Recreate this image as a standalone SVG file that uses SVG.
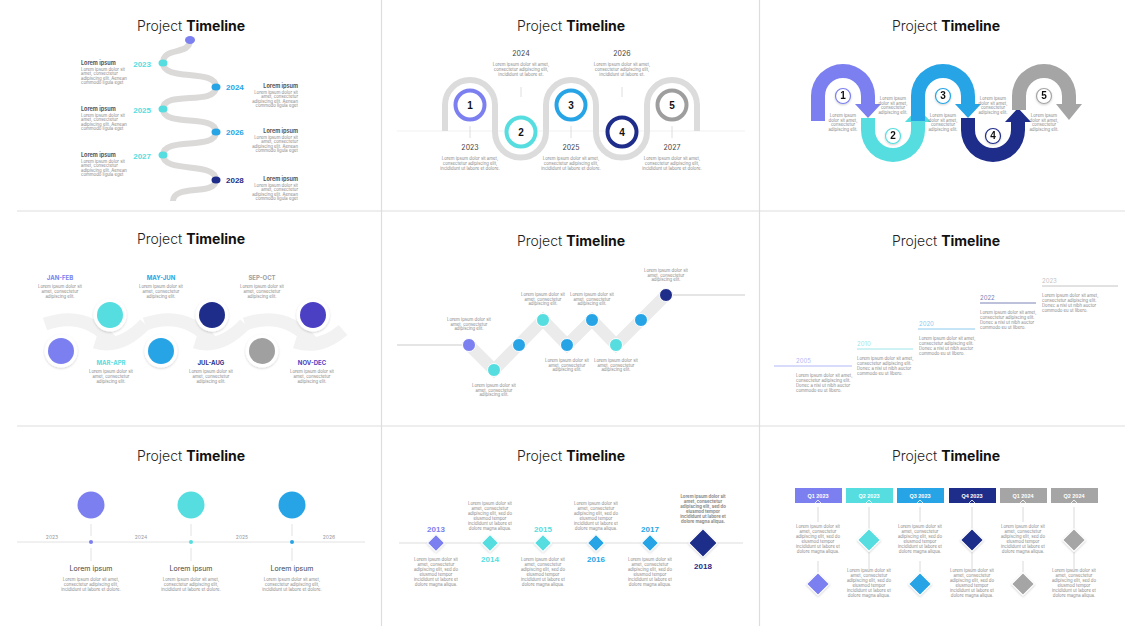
<svg xmlns="http://www.w3.org/2000/svg" width="1140" height="640" viewBox="0 0 1140 640">
<style>
.ttl{font-family:Inter,"Liberation Sans",sans-serif;font-size:14px;text-anchor:middle;fill:#222;font-weight:300}
.ttl tspan.b{font-weight:700;fill:#111}
.sm{font-family:Inter,"Liberation Sans",sans-serif;font-size:4.3px;fill:#888}
.c{text-anchor:middle}
.e{text-anchor:end}
.hd{font-family:Inter,"Liberation Sans",sans-serif;font-size:5.5px;font-weight:700;fill:#555}
.yr{font-family:"Liberation Sans",sans-serif;font-size:8px;font-weight:700}
.lab{font-family:Inter,"Liberation Sans",sans-serif;font-size:6px;font-weight:700}
.num{font-family:"Liberation Sans",sans-serif;font-size:10px;font-weight:700;fill:#111;text-anchor:middle}
.div{stroke:#DDDDDD;stroke-width:1.2}
</style>
<defs>
<filter id="sh" x="-50%" y="-50%" width="200%" height="200%"><feDropShadow dx="0" dy="1" stdDeviation="1.2" flood-color="#000" flood-opacity="0.18"/></filter>
</defs>
<rect width="1140" height="640" fill="#fff"/>
<g id="dividers">
<line class="div" x1="17" y1="211" x2="1125" y2="211"/>
<line class="div" x1="17" y1="426" x2="1125" y2="426"/>
<line class="div" x1="381.5" y1="0" x2="381.5" y2="626"/>
<line class="div" x1="759.5" y1="0" x2="759.5" y2="626"/>
</g>

<!-- Panel 1 -->
<g id="p1">
<text class="ttl" x="191" y="31">Project <tspan class="b">Timeline</tspan></text>
<g id="p1-connectors"><path d="M190,40 C190,56 163,46 163,63 C163,82 216,68 216,87 C216,106 163,90 163,109 C163,128 216,113 216,132 C216,151 163,136 163,155 C163,174 216,161 216,180 C216,196 173,184 173,201" fill="none" stroke="#DCD9D9" stroke-width="6"/></g>
<ellipse cx="190" cy="40" rx="5" ry="4" fill="#7B7FEF"/>
<ellipse cx="163" cy="63" rx="4.5" ry="3.5" fill="#55DDE0"/>
<ellipse cx="216" cy="87" rx="4.5" ry="3.5" fill="#27A4E6"/>
<ellipse cx="163" cy="109" rx="4.5" ry="3.5" fill="#55DDE0"/>
<ellipse cx="216" cy="132" rx="4.5" ry="3.5" fill="#27A4E6"/>
<ellipse cx="163" cy="155" rx="4.5" ry="3.5" fill="#55DDE0"/>
<ellipse cx="216" cy="180" rx="4.5" ry="3.5" fill="#1F2D8A"/>
<text class="yr e" x="151" y="67" fill="#55DDE0">2023</text>
<text class="yr" x="226" y="90" fill="#27A4E6">2024</text>
<text class="yr e" x="151" y="113" fill="#55DDE0">2025</text>
<text class="yr" x="226" y="135" fill="#27A4E6">2026</text>
<text class="yr e" x="151" y="159" fill="#55DDE0">2027</text>
<text class="yr" x="226" y="183" fill="#1F2D8A">2028</text>
<g id="p1-l1"><text class="hd" x="81" y="65">Lorem ipsum</text><text class="sm" x="81" y="71">Lorem ipsum dolor sit<tspan x="81" dy="4.4">amet, consectetur</tspan><tspan x="81" dy="4.4">adipiscing elit. Aenean</tspan><tspan x="81" dy="4.4">commodo ligula eget</tspan></text></g>
<g id="p1-l2"><text class="hd" x="81" y="111">Lorem ipsum</text><text class="sm" x="81" y="117">Lorem ipsum dolor sit<tspan x="81" dy="4.4">amet, consectetur</tspan><tspan x="81" dy="4.4">adipiscing elit. Aenean</tspan><tspan x="81" dy="4.4">commodo ligula eget</tspan></text></g>
<g id="p1-l3"><text class="hd" x="81" y="157">Lorem ipsum</text><text class="sm" x="81" y="163">Lorem ipsum dolor sit<tspan x="81" dy="4.4">amet, consectetur</tspan><tspan x="81" dy="4.4">adipiscing elit. Aenean</tspan><tspan x="81" dy="4.4">commodo ligula eget</tspan></text></g>
<g id="p1-r1"><text class="hd e" x="298" y="88">Lorem ipsum</text><text class="sm e" x="298" y="94">Lorem ipsum dolor sit<tspan x="298" dy="4.4">amet, consectetur</tspan><tspan x="298" dy="4.4">adipiscing elit. Aenean</tspan><tspan x="298" dy="4.4">commodo ligula eget</tspan></text></g>
<g id="p1-r2"><text class="hd e" x="298" y="133">Lorem ipsum</text><text class="sm e" x="298" y="139">Lorem ipsum dolor sit<tspan x="298" dy="4.4">amet, consectetur</tspan><tspan x="298" dy="4.4">adipiscing elit. Aenean</tspan><tspan x="298" dy="4.4">commodo ligula eget</tspan></text></g>
<g id="p1-r3"><text class="hd e" x="298" y="181">Lorem ipsum</text><text class="sm e" x="298" y="187">Lorem ipsum dolor sit<tspan x="298" dy="4.4">amet, consectetur</tspan><tspan x="298" dy="4.4">adipiscing elit. Aenean</tspan><tspan x="298" dy="4.4">commodo ligula eget</tspan></text></g>
</g>

<!-- Panel 2 -->
<g id="p2" transform="translate(380,0)">
<text class="ttl" x="191" y="31">Project <tspan class="b">Timeline</tspan></text>
<g id="p2-connectors">
<line x1="17" y1="131" x2="365" y2="131" stroke="#EEEEEE" stroke-width="0.8"/>
<path d="M65,131 L65,105 A25,25 0 0 1 115,105 L115,132 A25,25 0 0 0 166,132 L166,105 A25,25 0 0 1 216,105 L216,132 A25,25 0 0 0 267,132 L267,105 A25,25 0 0 1 317,105 L317,131" fill="none" stroke="#DCDCDC" stroke-width="6"/>
<g stroke="#D5D5D5" stroke-width="0.8"><line x1="90" y1="126" x2="90" y2="138"/><line x1="141" y1="87" x2="141" y2="97"/><line x1="191" y1="126" x2="191" y2="138"/><line x1="242" y1="87" x2="242" y2="97"/><line x1="292" y1="126" x2="292" y2="138"/></g>
</g>
<g id="p2-n1"><circle cx="90" cy="105" r="14.5" fill="#fff" stroke="#7B7FEF" stroke-width="4"/><text class="num" x="90" y="109">1</text></g>
<g id="p2-n2"><circle cx="141" cy="132" r="14.5" fill="#fff" stroke="#55DDE0" stroke-width="4"/><text class="num" x="141" y="136">2</text></g>
<g id="p2-n3"><circle cx="191" cy="105" r="14.5" fill="#fff" stroke="#27A4E6" stroke-width="4"/><text class="num" x="191" y="109">3</text></g>
<g id="p2-n4"><circle cx="242" cy="132" r="14.5" fill="#fff" stroke="#1F2D8A" stroke-width="4"/><text class="num" x="242" y="136">4</text></g>
<g id="p2-n5"><circle cx="292" cy="105" r="14.5" fill="#fff" stroke="#9E9E9E" stroke-width="4"/><text class="num" x="292" y="109">5</text></g>
<g font-family="Inter,'Liberation Sans',sans-serif" font-size="7" fill="#444" text-anchor="middle"><text x="90" y="150">2023</text><text x="141" y="56">2024</text><text x="191" y="150">2025</text><text x="242" y="56">2026</text><text x="292" y="150">2027</text></g>
<text class="sm c" x="90" y="160">Lorem ipsum dolor sit amet,<tspan x="90" dy="5">consectetur adipiscing elit,</tspan><tspan x="90" dy="5">incididunt ut labore et dolore.</tspan></text>
<text class="sm c" x="141" y="66">Lorem ipsum dolor sit amet,<tspan x="141" dy="5">consectetur adipiscing elit,</tspan><tspan x="141" dy="5">incididunt ut labore et.</tspan></text>
<text class="sm c" x="191" y="160">Lorem ipsum dolor sit amet,<tspan x="191" dy="5">consectetur adipiscing elit,</tspan><tspan x="191" dy="5">incididunt ut labore et dolore.</tspan></text>
<text class="sm c" x="242" y="66">Lorem ipsum dolor sit amet,<tspan x="242" dy="5">consectetur adipiscing elit,</tspan><tspan x="242" dy="5">incididunt ut labore et.</tspan></text>
<text class="sm c" x="292" y="160">Lorem ipsum dolor sit amet,<tspan x="292" dy="5">consectetur adipiscing elit,</tspan><tspan x="292" dy="5">incididunt ut labore et dolore.</tspan></text>
</g>

<!-- Panel 3 -->
<g id="p3" transform="translate(760,0)">
<text class="ttl" x="186" y="31">Project <tspan class="b">Timeline</tspan></text>
<g id="p3-connectors">
<path fill="#7B7FEF" d="M51,121 L51,96 A32,32 0 0 1 115,96 L115,104 L121,104 L108,118 L95,104 L101,104 L101,96 A18,18 0 0 0 65,96 L65,121 Z"/>
<path fill="#55DDE0" d="M101,118 L101,130 A32,32 0 0 0 165,130 L165,122 L171,122 L158,108 L145,122 L151,122 L151,130 A18,18 0 0 1 115,130 L115,118 Z"/>
<path fill="#27A4E6" d="M151,121 L151,96 A32,32 0 0 1 215,96 L215,104 L221,104 L208,118 L195,104 L201,104 L201,96 A18,18 0 0 0 165,96 L165,121 Z"/>
<path fill="#1F2D8A" d="M201,118 L201,130 A32,32 0 0 0 265,130 L265,122 L271,122 L258,108 L245,122 L251,122 L251,130 A18,18 0 0 1 215,130 L215,118 Z"/>
<path fill="#A5A5A5" d="M252,110 L252,96 A32,32 0 0 1 316,96 L316,104 L322,104 L309,120 L296,104 L302,104 L302,96 A18,18 0 0 0 266,96 L266,110 Z"/>
</g>
<g id="p3-n1" filter="url(#sh)"><circle cx="83" cy="96" r="7.5" fill="#fff" stroke="#7B7FEF" stroke-width="1.2"/><text class="num" x="83" y="99" font-size="8">1</text></g>
<g id="p3-n2" filter="url(#sh)"><circle cx="133" cy="136" r="7.5" fill="#fff" stroke="#55DDE0" stroke-width="1.2"/><text class="num" x="133" y="139" font-size="8">2</text></g>
<g id="p3-n3" filter="url(#sh)"><circle cx="183" cy="96" r="7.5" fill="#fff" stroke="#27A4E6" stroke-width="1.2"/><text class="num" x="183" y="99" font-size="8">3</text></g>
<g id="p3-n4" filter="url(#sh)"><circle cx="233" cy="136" r="7.5" fill="#fff" stroke="#1F2D8A" stroke-width="1.2"/><text class="num" x="233" y="139" font-size="8">4</text></g>
<g id="p3-n5" filter="url(#sh)"><circle cx="284" cy="96" r="7.5" fill="#fff" stroke="#A5A5A5" stroke-width="1.2"/><text class="num" x="284" y="99" font-size="8">5</text></g>
<text class="sm c" x="83" y="117">Lorem ipsum<tspan x="83" dy="4.5">dolor sit amet,</tspan><tspan x="83" dy="4.5">consectetur</tspan><tspan x="83" dy="4.5">adipiscing elit.</tspan></text>
<text class="sm c" x="133" y="100">Lorem ipsum<tspan x="133" dy="4.5">dolor sit amet,</tspan><tspan x="133" dy="4.5">consectetur</tspan><tspan x="133" dy="4.5">adipiscing elit.</tspan></text>
<text class="sm c" x="183" y="117">Lorem ipsum<tspan x="183" dy="4.5">dolor sit amet,</tspan><tspan x="183" dy="4.5">consectetur</tspan><tspan x="183" dy="4.5">adipiscing elit.</tspan></text>
<text class="sm c" x="233" y="100">Lorem ipsum<tspan x="233" dy="4.5">dolor sit amet,</tspan><tspan x="233" dy="4.5">consectetur</tspan><tspan x="233" dy="4.5">adipiscing elit.</tspan></text>
<text class="sm c" x="284" y="117">Lorem ipsum<tspan x="284" dy="4.5">dolor sit amet,</tspan><tspan x="284" dy="4.5">consectetur</tspan><tspan x="284" dy="4.5">adipiscing elit.</tspan></text>
</g>

<!-- Panel 4 -->
<g id="p4" transform="translate(0,212)">
<text class="ttl" x="191" y="32">Project <tspan class="b">Timeline</tspan></text>
<g id="p4-connectors" fill="none" stroke="#F2F2F2" stroke-width="13">
<path d="M45,112 Q85,98 112,130"/><path d="M95,130 Q120,138 145,112"/>
<path d="M145,112 Q185,98 212,130"/><path d="M195,130 Q220,138 245,112"/>
<path d="M245,112 Q285,98 312,130"/><path d="M295,130 Q320,138 343,118"/>
</g>
<g filter="url(#sh)">
<circle cx="61" cy="139" r="16.5" fill="#fff"/><circle cx="110" cy="103" r="16.5" fill="#fff"/><circle cx="161" cy="139" r="16.5" fill="#fff"/><circle cx="212" cy="103" r="16.5" fill="#fff"/><circle cx="262" cy="139" r="16.5" fill="#fff"/><circle cx="313" cy="103" r="16.5" fill="#fff"/>
</g>
<circle id="p4-n1" cx="61" cy="139" r="13" fill="#7B7FEF"/>
<circle id="p4-n2" cx="110" cy="103" r="13" fill="#55DDE0"/>
<circle id="p4-n3" cx="161" cy="139" r="13" fill="#27A4E6"/>
<circle id="p4-n4" cx="212" cy="103" r="13" fill="#1F2D8A"/>
<circle id="p4-n5" cx="262" cy="139" r="13" fill="#A0A0A0"/>
<circle id="p4-n6" cx="313" cy="103" r="13" fill="#4B3FC4"/>
<text class="lab c" x="60" y="68" fill="#7B7FEF">JAN-FEB</text>
<text class="lab c" x="111" y="153" fill="#55DDE0">MAR-APR</text>
<text class="lab c" x="161" y="68" fill="#27A4E6">MAY-JUN</text>
<text class="lab c" x="211" y="153" fill="#1F2D8A">JUL-AUG</text>
<text class="lab c" x="262" y="68" fill="#A0A0A0">SEP-OCT</text>
<text class="lab c" x="312" y="153" fill="#4B3FC4">NOV-DEC</text>
<text class="sm c" x="60" y="76">Lorem ipsum dolor sit<tspan x="60" dy="5">amet, consectetur</tspan><tspan x="60" dy="5">adipiscing elit.</tspan></text>
<text class="sm c" x="111" y="161">Lorem ipsum dolor sit<tspan x="111" dy="5">amet, consectetur</tspan><tspan x="111" dy="5">adipiscing elit.</tspan></text>
<text class="sm c" x="161" y="76">Lorem ipsum dolor sit<tspan x="161" dy="5">amet, consectetur</tspan><tspan x="161" dy="5">adipiscing elit.</tspan></text>
<text class="sm c" x="211" y="161">Lorem ipsum dolor sit<tspan x="211" dy="5">amet, consectetur</tspan><tspan x="211" dy="5">adipiscing elit.</tspan></text>
<text class="sm c" x="262" y="76">Lorem ipsum dolor sit<tspan x="262" dy="5">amet, consectetur</tspan><tspan x="262" dy="5">adipiscing elit.</tspan></text>
<text class="sm c" x="312" y="161">Lorem ipsum dolor sit<tspan x="312" dy="5">amet, consectetur</tspan><tspan x="312" dy="5">adipiscing elit.</tspan></text>
</g>

<!-- Panel 5 -->
<g id="p5" transform="translate(380,212)">
<text class="ttl" x="191" y="34">Project <tspan class="b">Timeline</tspan></text>
<g id="p5-connectors">
<line x1="17" y1="133" x2="89" y2="133" stroke="#DDDDDD" stroke-width="1.5"/>
<line x1="286" y1="83" x2="365" y2="83" stroke="#DDDDDD" stroke-width="1.5"/>
<polyline points="89,133 114,158 163,108 187,133 212,108 236,133 286,83" fill="none" stroke="#EBEBEB" stroke-width="12" stroke-linejoin="miter"/>
</g>
<g stroke="#fff" stroke-width="1">
<circle id="p5-n1" cx="89" cy="133" r="6.5" fill="#7B7FEF"/>
<circle id="p5-n2" cx="114" cy="158" r="6.5" fill="#55DDE0"/>
<circle id="p5-n3" cx="139" cy="133" r="6.5" fill="#27A4E6"/>
<circle id="p5-n4" cx="163" cy="108" r="6.5" fill="#55DDE0"/>
<circle id="p5-n5" cx="187" cy="133" r="6.5" fill="#27A4E6"/>
<circle id="p5-n6" cx="212" cy="108" r="6.5" fill="#27A4E6"/>
<circle id="p5-n7" cx="236" cy="133" r="6.5" fill="#55DDE0"/>
<circle id="p5-n8" cx="261" cy="108" r="6.5" fill="#27A4E6"/>
<circle id="p5-n9" cx="286" cy="83" r="6.5" fill="#1F2D8A"/>
</g>
<text class="sm c" x="89" y="109">Lorem ipsum dolor sit<tspan x="89" dy="4.6">amet, consectetur</tspan><tspan x="89" dy="4.6">adipiscing elit.</tspan></text>
<text class="sm c" x="114" y="175">Lorem ipsum dolor sit<tspan x="114" dy="4.6">amet, consectetur</tspan><tspan x="114" dy="4.6">adipiscing elit.</tspan></text>
<text class="sm c" x="163" y="84">Lorem ipsum dolor sit<tspan x="163" dy="4.6">amet, consectetur</tspan><tspan x="163" dy="4.6">adipiscing elit.</tspan></text>
<text class="sm c" x="187" y="150">Lorem ipsum dolor sit<tspan x="187" dy="4.6">amet, consectetur</tspan><tspan x="187" dy="4.6">adipiscing elit.</tspan></text>
<text class="sm c" x="212" y="84">Lorem ipsum dolor sit<tspan x="212" dy="4.6">amet, consectetur</tspan><tspan x="212" dy="4.6">adipiscing elit.</tspan></text>
<text class="sm c" x="236" y="150">Lorem ipsum dolor sit<tspan x="236" dy="4.6">amet, consectetur</tspan><tspan x="236" dy="4.6">adipiscing elit.</tspan></text>
<text class="sm c" x="286" y="60">Lorem ipsum dolor sit<tspan x="286" dy="4.6">amet, consectetur</tspan><tspan x="286" dy="4.6">adipiscing elit.</tspan></text>
</g>

<!-- Panel 6 -->
<g id="p6" transform="translate(760,212)">
<text class="ttl" x="186" y="34">Project <tspan class="b">Timeline</tspan></text>
<g id="p6-connectors" stroke-width="1">
<line x1="14" y1="154" x2="92" y2="154" stroke="#B3B7F5"/>
<line x1="97" y1="137" x2="153" y2="137" stroke="#9EE6E8"/>
<line x1="158" y1="117" x2="215" y2="117" stroke="#8CCBEF"/>
<line x1="220" y1="91" x2="276" y2="91" stroke="#7D82B5"/>
<line x1="282" y1="74" x2="358" y2="74" stroke="#C4C4C4"/>
</g>
<g font-family="Inter,'Liberation Sans',sans-serif" font-size="6">
<text x="36" y="151" fill="#B3B7F5">2005</text>
<text x="97" y="134" fill="#9EE6E8">2010</text>
<text x="159" y="114" fill="#8CCBEF">2020</text>
<text x="220" y="88" fill="#7D82B5">2022</text>
<text x="282" y="71" fill="#C4C4C4">2023</text>
</g>
<text class="sm" x="36" y="165">Lorem ipsum dolor sit amet,<tspan x="36" dy="5">consectetur adipiscing elit.</tspan><tspan x="36" dy="5">Donec a nisi ut nibh auctor</tspan><tspan x="36" dy="5">commodo eu ut libero.</tspan></text>
<text class="sm" x="97" y="148">Lorem ipsum dolor sit amet,<tspan x="97" dy="5">consectetur adipiscing elit.</tspan><tspan x="97" dy="5">Donec a nisi ut nibh auctor</tspan><tspan x="97" dy="5">commodo eu ut libero.</tspan></text>
<text class="sm" x="159" y="128">Lorem ipsum dolor sit amet,<tspan x="159" dy="5">consectetur adipiscing elit.</tspan><tspan x="159" dy="5">Donec a nisi ut nibh auctor</tspan><tspan x="159" dy="5">commodo eu ut libero.</tspan></text>
<text class="sm" x="220" y="102">Lorem ipsum dolor sit amet,<tspan x="220" dy="5">consectetur adipiscing elit.</tspan><tspan x="220" dy="5">Donec a nisi ut nibh auctor</tspan><tspan x="220" dy="5">commodo eu ut libero.</tspan></text>
<text class="sm" x="282" y="85">Lorem ipsum dolor sit amet,<tspan x="282" dy="5">consectetur adipiscing elit.</tspan><tspan x="282" dy="5">Donec a nisi ut nibh auctor</tspan><tspan x="282" dy="5">commodo eu ut libero.</tspan></text>
</g>

<!-- Panel 7 -->
<g id="p7" transform="translate(0,424)">
<text class="ttl" x="191" y="37">Project <tspan class="b">Timeline</tspan></text>
<g id="p7-connectors" stroke="#DADADA" stroke-width="0.8">
<line x1="17" y1="118" x2="365" y2="118"/>
<line x1="91" y1="100" x2="91" y2="112"/><line x1="91" y1="124" x2="91" y2="137"/>
<line x1="191" y1="100" x2="191" y2="112"/><line x1="191" y1="124" x2="191" y2="137"/>
<line x1="292" y1="100" x2="292" y2="112"/><line x1="292" y1="124" x2="292" y2="137"/>
</g>
<circle id="p7-n1" cx="91" cy="81" r="13.5" fill="#7B7FEF"/>
<circle id="p7-n2" cx="191" cy="81" r="13.5" fill="#55DDE0"/>
<circle id="p7-n3" cx="292" cy="81" r="13.5" fill="#27A4E6"/>
<circle cx="91" cy="118" r="2" fill="#7B7FEF"/><circle cx="191" cy="118" r="2" fill="#55DDE0"/><circle cx="292" cy="118" r="2" fill="#27A4E6"/>
<g font-family="Inter,'Liberation Sans',sans-serif" font-size="5" fill="#999" text-anchor="middle"><text x="52" y="115">2023</text><text x="141" y="115">2024</text><text x="242" y="115">2025</text><text x="329" y="115">2026</text></g>
<g font-family="Inter,'Liberation Sans',sans-serif" font-size="7" fill="#444" text-anchor="middle"><text x="91" y="147">Lorem ipsum</text><text x="191" y="147">Lorem ipsum</text><text x="292" y="147">Lorem ipsum</text></g>
<text class="sm c" x="91" y="157">Lorem ipsum dolor sit amet,<tspan x="91" dy="5">consectetur adipiscing elit,</tspan><tspan x="91" dy="5">incididunt ut labore et dolore.</tspan></text>
<text class="sm c" x="191" y="157">Lorem ipsum dolor sit amet,<tspan x="191" dy="5">consectetur adipiscing elit,</tspan><tspan x="191" dy="5">incididunt ut labore et dolore.</tspan></text>
<text class="sm c" x="292" y="157">Lorem ipsum dolor sit amet,<tspan x="292" dy="5">consectetur adipiscing elit,</tspan><tspan x="292" dy="5">incididunt ut labore et dolore.</tspan></text>
</g>

<!-- Panel 8 -->
<g id="p8" transform="translate(380,424)">
<text class="ttl" x="191" y="37">Project <tspan class="b">Timeline</tspan></text>
<g id="p8-connectors"><line x1="19" y1="119" x2="363" y2="119" stroke="#DDDDDD" stroke-width="1.2"/></g>
<g filter="url(#sh)" stroke="#fff" stroke-width="1">
<rect id="p8-n1" x="50" y="113" width="12" height="12" fill="#7B7FEF" transform="rotate(45 56 119)"/>
<rect id="p8-n2" x="104" y="113" width="12" height="12" fill="#55DDE0" transform="rotate(45 110 119)"/>
<rect id="p8-n3" x="157" y="113" width="12" height="12" fill="#55DDE0" transform="rotate(45 163 119)"/>
<rect id="p8-n4" x="210" y="113" width="12" height="12" fill="#27A4E6" transform="rotate(45 216 119)"/>
<rect id="p8-n5" x="264" y="113" width="12" height="12" fill="#27A4E6" transform="rotate(45 270 119)"/>
<rect id="p8-n6" x="313" y="109" width="20" height="20" fill="#1F2D8A" transform="rotate(45 323 119)"/>
</g>
<g class="yr" font-size="7" text-anchor="middle">
<text x="56" y="108" fill="#7B7FEF">2013</text><text x="110" y="138" fill="#55DDE0">2014</text><text x="163" y="108" fill="#55DDE0">2015</text><text x="216" y="138" fill="#27A4E6">2016</text><text x="270" y="108" fill="#27A4E6">2017</text><text x="323" y="145" fill="#1F2D8A">2018</text>
</g>
<text class="sm c" x="56" y="137">Lorem ipsum dolor sit<tspan x="56" dy="5">amet, consectetur</tspan><tspan x="56" dy="5">adipiscing elit, sed do</tspan><tspan x="56" dy="5">eiusmod tempor</tspan><tspan x="56" dy="5">incididunt ut labore et</tspan><tspan x="56" dy="5">dolore magna aliqua.</tspan></text>
<text class="sm c" x="110" y="81">Lorem ipsum dolor sit<tspan x="110" dy="5">amet, consectetur</tspan><tspan x="110" dy="5">adipiscing elit, sed do</tspan><tspan x="110" dy="5">eiusmod tempor</tspan><tspan x="110" dy="5">incididunt ut labore et</tspan><tspan x="110" dy="5">dolore magna aliqua.</tspan></text>
<text class="sm c" x="163" y="137">Lorem ipsum dolor sit<tspan x="163" dy="5">amet, consectetur</tspan><tspan x="163" dy="5">adipiscing elit, sed do</tspan><tspan x="163" dy="5">eiusmod tempor</tspan><tspan x="163" dy="5">incididunt ut labore et</tspan><tspan x="163" dy="5">dolore magna aliqua.</tspan></text>
<text class="sm c" x="216" y="81">Lorem ipsum dolor sit<tspan x="216" dy="5">amet, consectetur</tspan><tspan x="216" dy="5">adipiscing elit, sed do</tspan><tspan x="216" dy="5">eiusmod tempor</tspan><tspan x="216" dy="5">incididunt ut labore et</tspan><tspan x="216" dy="5">dolore magna aliqua.</tspan></text>
<text class="sm c" x="270" y="137">Lorem ipsum dolor sit<tspan x="270" dy="5">amet, consectetur</tspan><tspan x="270" dy="5">adipiscing elit, sed do</tspan><tspan x="270" dy="5">eiusmod tempor</tspan><tspan x="270" dy="5">incididunt ut labore et</tspan><tspan x="270" dy="5">dolore magna aliqua.</tspan></text>
<text class="sm c" x="323" y="74" fill="#222" font-weight="700">Lorem ipsum dolor sit<tspan x="323" dy="5">amet, consectetur</tspan><tspan x="323" dy="5">adipiscing elit, sed do</tspan><tspan x="323" dy="5">eiusmod tempor</tspan><tspan x="323" dy="5">incididunt ut labore et</tspan><tspan x="323" dy="5">dolore magna aliqua.</tspan></text>
</g>

<!-- Panel 9 -->
<g id="p9" transform="translate(760,424)">
<text class="ttl" x="186" y="37">Project <tspan class="b">Timeline</tspan></text>
<g id="p9-connectors" stroke="#D0D0D0" stroke-width="0.8">
<line x1="58" y1="83" x2="58" y2="98"/><line x1="58" y1="137" x2="58" y2="148"/>
<line x1="109" y1="83" x2="109" y2="105"/><line x1="109" y1="128" x2="109" y2="145"/>
<line x1="160" y1="83" x2="160" y2="98"/><line x1="160" y1="137" x2="160" y2="148"/>
<line x1="212" y1="83" x2="212" y2="105"/><line x1="212" y1="128" x2="212" y2="145"/>
<line x1="263" y1="83" x2="263" y2="98"/><line x1="263" y1="137" x2="263" y2="148"/>
<line x1="314" y1="83" x2="314" y2="105"/><line x1="314" y1="128" x2="314" y2="145"/>
</g>
<g id="p9-boxes">
<rect x="35" y="64" width="47" height="15" fill="#7B7FEF"/>
<rect x="86" y="64" width="47" height="15" fill="#55DDE0"/>
<rect x="137" y="64" width="47" height="15" fill="#27A4E6"/>
<rect x="189" y="64" width="47" height="15" fill="#1F2D8A"/>
<rect x="240" y="64" width="47" height="15" fill="#A5A5A5"/>
<rect x="291" y="64" width="47" height="15" fill="#A5A5A5"/>
<g fill="none" stroke="#fff" stroke-width="0.8"><polyline points="55,79 58,76 61,79"/><polyline points="106,79 109,76 112,79"/><polyline points="157,79 160,76 163,79"/><polyline points="209,79 212,76 215,79"/><polyline points="260,79 263,76 266,79"/><polyline points="311,79 314,76 317,79"/></g>
<g font-family="'Liberation Sans',sans-serif" font-size="5.5" font-weight="700" fill="#fff" text-anchor="middle">
<text x="58" y="73.5">Q1 2023</text><text x="109" y="73.5">Q2 2023</text><text x="160" y="73.5">Q3 2023</text><text x="212" y="73.5">Q4 2023</text><text x="263" y="73.5">Q1 2024</text><text x="314" y="73.5">Q2 2024</text>
</g>
</g>
<g filter="url(#sh)" stroke="#fff" stroke-width="1">
<rect id="p9-n1" x="50" y="152" width="16" height="16" fill="#7B7FEF" transform="rotate(45 58 160)"/>
<rect id="p9-n2" x="101" y="108" width="16" height="16" fill="#55DDE0" transform="rotate(45 109 116)"/>
<rect id="p9-n3" x="152" y="152" width="16" height="16" fill="#27A4E6" transform="rotate(45 160 160)"/>
<rect id="p9-n4" x="204" y="108" width="16" height="16" fill="#1F2D8A" transform="rotate(45 212 116)"/>
<rect id="p9-n5" x="255" y="152" width="16" height="16" fill="#A5A5A5" transform="rotate(45 263 160)"/>
<rect id="p9-n6" x="306" y="108" width="16" height="16" fill="#A5A5A5" transform="rotate(45 314 116)"/>
</g>
<text class="sm c" x="58" y="104">Lorem ipsum dolor sit<tspan x="58" dy="5">amet, consectetur</tspan><tspan x="58" dy="5">adipiscing elit, sed do</tspan><tspan x="58" dy="5">eiusmod tempor</tspan><tspan x="58" dy="5">incididunt ut labore et</tspan><tspan x="58" dy="5">dolore magna aliqua.</tspan></text>
<text class="sm c" x="109" y="148">Lorem ipsum dolor sit<tspan x="109" dy="5">amet, consectetur</tspan><tspan x="109" dy="5">adipiscing elit, sed do</tspan><tspan x="109" dy="5">eiusmod tempor</tspan><tspan x="109" dy="5">incididunt ut labore et</tspan><tspan x="109" dy="5">dolore magna aliqua.</tspan></text>
<text class="sm c" x="160" y="104">Lorem ipsum dolor sit<tspan x="160" dy="5">amet, consectetur</tspan><tspan x="160" dy="5">adipiscing elit, sed do</tspan><tspan x="160" dy="5">eiusmod tempor</tspan><tspan x="160" dy="5">incididunt ut labore et</tspan><tspan x="160" dy="5">dolore magna aliqua.</tspan></text>
<text class="sm c" x="212" y="148">Lorem ipsum dolor sit<tspan x="212" dy="5">amet, consectetur</tspan><tspan x="212" dy="5">adipiscing elit, sed do</tspan><tspan x="212" dy="5">eiusmod tempor</tspan><tspan x="212" dy="5">incididunt ut labore et</tspan><tspan x="212" dy="5">dolore magna aliqua.</tspan></text>
<text class="sm c" x="263" y="104">Lorem ipsum dolor sit<tspan x="263" dy="5">amet, consectetur</tspan><tspan x="263" dy="5">adipiscing elit, sed do</tspan><tspan x="263" dy="5">eiusmod tempor</tspan><tspan x="263" dy="5">incididunt ut labore et</tspan><tspan x="263" dy="5">dolore magna aliqua.</tspan></text>
<text class="sm c" x="314" y="148">Lorem ipsum dolor sit<tspan x="314" dy="5">amet, consectetur</tspan><tspan x="314" dy="5">adipiscing elit, sed do</tspan><tspan x="314" dy="5">eiusmod tempor</tspan><tspan x="314" dy="5">incididunt ut labore et</tspan><tspan x="314" dy="5">dolore magna aliqua.</tspan></text>
</g>
</svg>
